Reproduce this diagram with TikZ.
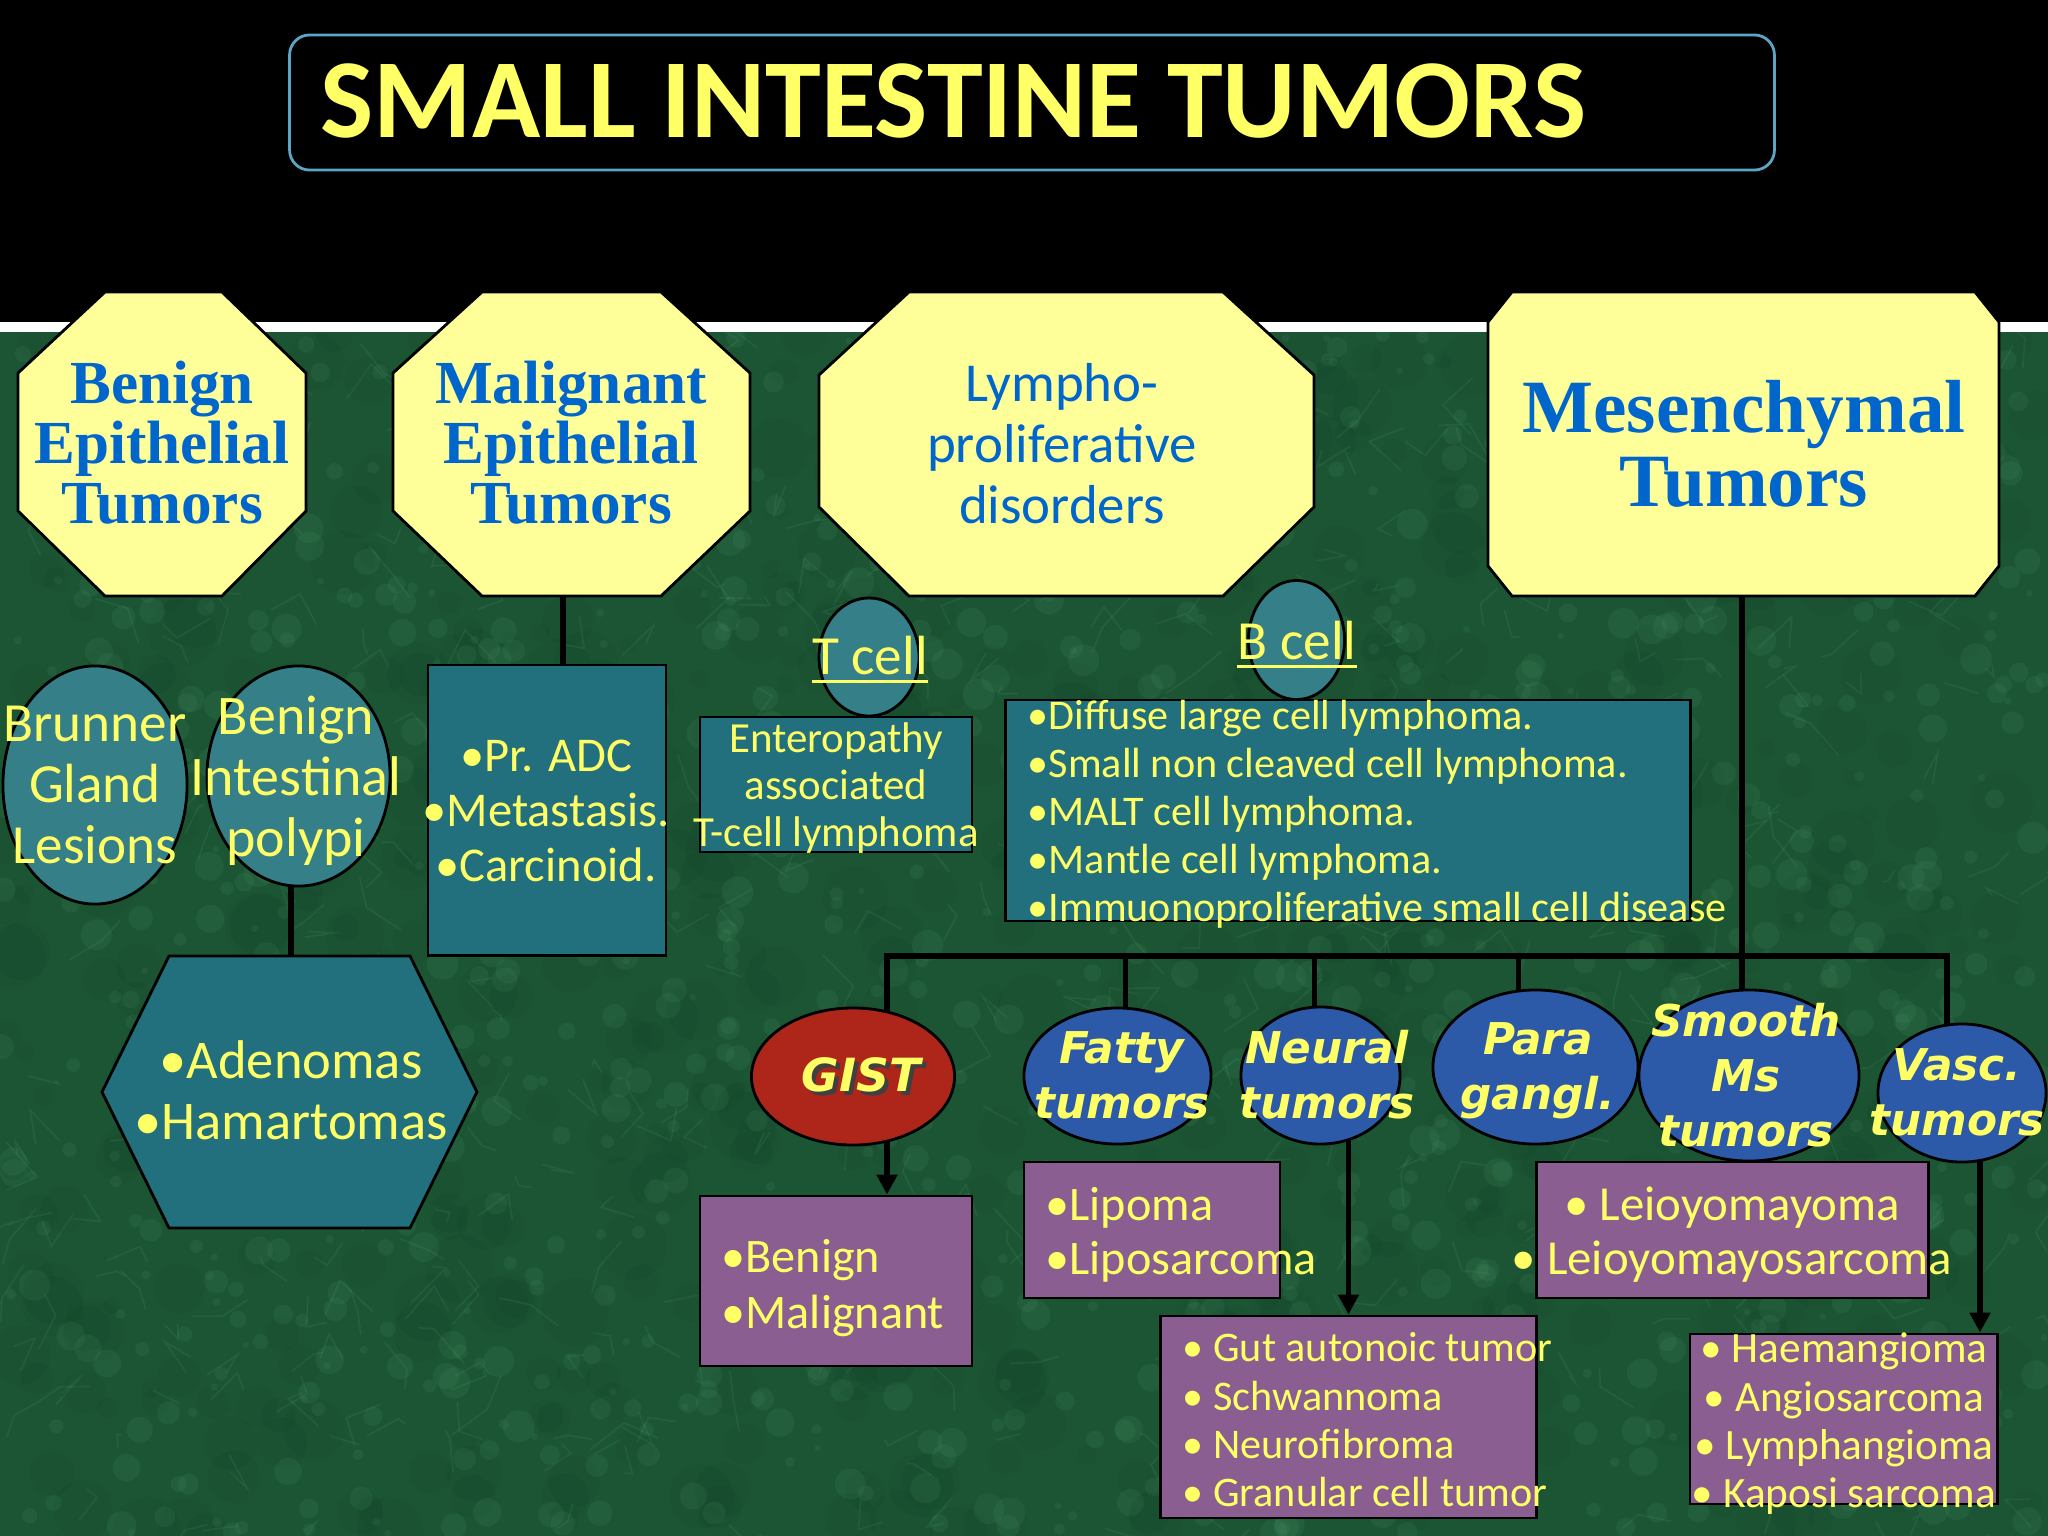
\documentclass[tikz,border=0pt]{standalone}
\usepackage{fontspec}
\setmainfont{Carlito}
\newfontfamily\serifbold{Liberation Serif}
\newfontfamily\dejav{DejaVu Sans}
\usetikzlibrary{shapes.geometric,calc,arrows.meta}
\pgfdeclarelayer{bgl}
\pgfdeclarelayer{connl}
\pgfsetlayers{bgl,connl,main}
\definecolor{octyellow}{HTML}{FFFF99}
\definecolor{bluetxt}{HTML}{0066CC}
\definecolor{ytext}{HTML}{FFFF66}
\definecolor{tealfill}{HTML}{357F88}
\definecolor{tealbox}{HTML}{22707D}
\definecolor{bluefill}{HTML}{2C5AA8}
\definecolor{redfill}{HTML}{AE2619}
\definecolor{purpfill}{HTML}{8A5E90}
\definecolor{bggreen}{HTML}{1C5534}
\definecolor{veincol}{HTML}{5FAE7E}
\definecolor{darkblot}{HTML}{0F3D22}
\definecolor{titleline}{HTML}{5DA5C5}
\newcommand\myfs[2]{\fontsize{#1}{#2}\selectfont}
\begin{document}
\begin{tikzpicture}[x=0.01cm,y=-0.01cm,
  conn/.style={draw=black,line width=1.6pt},
  arr/.style={conn,-{Triangle[length=0.2cm,width=0.2cm]}},
  shp/.style={draw=black,line width=0.8pt,inner sep=0pt},
  tealell/.style={shp,ellipse,fill=tealfill},
  tealrect/.style={shp,rectangle,fill=tealbox},
  purprect/.style={shp,rectangle,fill=purpfill},
  blueell/.style={shp,ellipse,fill=bluefill},
  octfill/.style={draw=black,line width=0.8pt,fill=octyellow},
  txt/.style={inner sep=0pt,text=ytext},
  octtxt/.style={inner sep=0pt,text=bluetxt,align=center},
  elltxt/.style={inner sep=0pt,text=ytext,align=center,font=\dejav\bfseries\itshape\myfs{12.45}{15.6}},
  vein/.style={draw=veincol,line width=0.45pt,opacity=0.13}]
\useasboundingbox (0,0) rectangle (2048,1536);
% ---------- background ----------
\begin{pgfonlayer}{bgl}
\fill[black] (0,0) rectangle (2048,322);
\fill[white] (0,322) rectangle (2048,332);
\fill[bggreen] (0,332) rectangle (2048,1536);
\begin{scope}
\clip (0,332) rectangle (2048,1536);
\pgfmathsetseed{23}
\foreach \k in {1,...,700}{
  \pgfmathsetmacro\xa{rnd*2048}
  \pgfmathsetmacro\ya{332+rnd*1204}
  \pgfmathsetmacro\ra{8+rnd*26}
  \fill[darkblot,opacity=0.10] (\xa,\ya) circle[radius=\ra*0.01cm];
}
\foreach \k in {1,...,1100}{
  \pgfmathsetmacro\xa{rnd*2048}
  \pgfmathsetmacro\ya{332+rnd*1204}
  \pgfmathsetmacro\ra{3+rnd*13}
  \fill[veincol,opacity=0.10] (\xa,\ya) circle[radius=\ra*0.01cm];
}
\foreach \k in {1,...,500}{
  \pgfmathsetmacro\xa{rnd*2048}
  \pgfmathsetmacro\ya{332+rnd*1204}
  \pgfmathsetmacro\xb{\xa+(rnd-0.5)*70}
  \pgfmathsetmacro\yb{\ya+(rnd-0.5)*70}
  \pgfmathsetmacro\xc{\xb+(rnd-0.5)*70}
  \pgfmathsetmacro\yc{\yb+(rnd-0.5)*70}
  \draw[vein] (\xa,\ya) -- (\xb,\yb) -- (\xc,\yc);
}
\end{scope}
\end{pgfonlayer}
% ---------- title ----------
\node[draw=titleline,line width=0.8pt,rounded corners=0.2cm,minimum width=14.84cm,minimum height=1.35cm,inner sep=0pt] (tbox) at (1032,102.5) {};
\node[inner sep=0pt,anchor=base west,text=ytext,font=\bfseries\myfs{32}{32}] (title) at (320,137) {SMALL INTESTINE TUMORS};
% ---------- top octagons ----------
\draw[octfill] (105,292) -- (222,292) -- (306,373) -- (306,511) -- (222,596) -- (105,596) -- (18,511) -- (18,373) -- cycle;
\node[octtxt,font=\serifbold\bfseries\myfs{17.4}{17.1}] (beno) at (162,443) {Benign\\Epithelial\\Tumors};
\draw[octfill] (482,292) -- (661,292) -- (750,373) -- (750,511) -- (661,596) -- (482,596) -- (393,511) -- (393,373) -- cycle;
\node[octtxt,font=\serifbold\bfseries\myfs{17.4}{17.1}] (malo) at (571,443) {Malignant\\Epithelial\\Tumors};
\draw[octfill] (909,292) -- (1223,292) -- (1314,375) -- (1314,507) -- (1223,596) -- (909,596) -- (819,507) -- (819,375) -- cycle;
\node[octtxt,font=\myfs{15.6}{17.35}] (lymo) at (1062,444) {Lympho-\\proliferative\\disorders};
\draw[octfill] (1512,292) -- (1975,292) -- (1999,322) -- (1999,566) -- (1975,596) -- (1512,596) -- (1488,566) -- (1488,322) -- cycle;
\node[octtxt,font=\serifbold\bfseries\myfs{21.4}{21.05}] (meso) at (1744,444) {Mesenchymal\\Tumors};
% ---------- left branch ----------
\node[tealell,minimum width=1.84cm,minimum height=2.38cm] (brun) at (95,785) {};
\node[txt,align=center,font=\myfs{15.7}{17.35}] (brunt) at (95,785) {Brunner\\Gland\\Lesions};
\node[tealell,minimum width=1.83cm,minimum height=2.20cm] (polyp) at (298.5,776) {};
\node[txt,align=center,font=\myfs{15.9}{17.35}] (polypt) at (296,781) {Benign\\Intestinal\\polypi};
\draw[draw=black,line width=0.8pt,fill=tealbox] (169,956) -- (410,956) -- (477,1092) -- (410,1228) -- (169,1228) -- (102,1092) -- cycle;
\node[txt,align=center,font=\myfs{15.5}{17.35}] (hext) at (291,1090) {\textbullet Adenomas\\\textbullet Hamartomas};
\node[tealrect,minimum width=2.38cm,minimum height=2.90cm] (malbox) at (547,810) {};
\node[txt,align=center,font=\myfs{13.8}{15.6}] (malt) at (546,811) {\textbullet Pr. ADC\\\textbullet Metastasis.\\\textbullet Carcinoid.};
% ---------- lymphoproliferative ----------
\node[tealell,minimum width=1.00cm,minimum height=1.18cm] (tcell) at (869,657) {};
\node[tealell,minimum width=0.96cm,minimum height=1.19cm] (bcell) at (1296.5,640) {};
\node[tealrect,minimum width=2.72cm,minimum height=1.35cm] (entbox) at (836,784.5) {};
\node[txt,align=center,font=\myfs{12.2}{13.4}] (entt) at (836,788) {Enteropathy\\associated\\T-cell lymphoma};
\node[tealrect,minimum width=6.84cm,minimum height=2.21cm] (bbox) at (1348,810.5) {};
\node[txt,align=left,anchor=west,font=\myfs{12}{13.65}] (bt) at (1027,814) {\textbullet Diffuse large cell lymphoma.\\\textbullet Small non cleaved cell lymphoma.\\\textbullet MALT cell lymphoma.\\\textbullet Mantle cell lymphoma.\\\textbullet Immuonoproliferative small cell disease};
\node[txt,anchor=base,font=\myfs{15.7}{15.7}] (tcellt) at (870,674) {T cell};
\draw[ytext,line width=0.9pt] ([yshift=-2.2pt]tcellt.base west) -- ([yshift=-2.2pt]tcellt.base east);
\node[txt,anchor=base,font=\myfs{15.7}{15.7}] (bcellt) at (1297,659) {B cell};
\draw[ytext,line width=0.9pt] ([yshift=-2.2pt]bcellt.base west) -- ([yshift=-2.2pt]bcellt.base east);
% ---------- mesenchymal ellipses ----------
\node[shp,ellipse,fill=redfill,minimum width=2.03cm,minimum height=1.37cm] (gist) at (853,1076.5) {};
\node[blueell,minimum width=1.87cm,minimum height=1.36cm] (fatty) at (1117.5,1076) {};
\node[blueell,minimum width=1.59cm,minimum height=1.37cm] (neural) at (1320.5,1075.5) {};
\node[blueell,minimum width=2.05cm,minimum height=1.54cm] (para) at (1535.5,1067) {};
\node[blueell,minimum width=2.20cm,minimum height=1.71cm] (smooth) at (1749,1075.5) {};
\node[blueell,minimum width=1.68cm,minimum height=1.38cm] (vasc) at (1962,1093) {};
\node[inner sep=0pt,anchor=base,text=black!75,font=\dejav\bfseries\itshape\myfs{13}{13}] (gistsh) at (865,1095) {GIST};
\node[inner sep=0pt,anchor=base,text=ytext,font=\dejav\bfseries\itshape\myfs{13}{13}] (gistt) at (861,1091) {GIST};
\node[elltxt] (fattyt) at (1122,1075) {Fatty\\tumors};
\node[elltxt] (neuralt) at (1327,1075) {Neural\\tumors};
\node[elltxt] (parat) at (1538,1071) {Para\\gangl.};
\node[elltxt] (smootht) at (1746,1075) {Smooth\\Ms\\tumors};
\node[elltxt] (vasct) at (1957,1092) {Vasc.\\tumors};
% ---------- purple boxes ----------
\node[purprect,minimum width=2.72cm,minimum height=1.70cm] (gbox) at (836,1281) {};
\node[txt,align=left,anchor=west,font=\myfs{13.7}{15.9}] (gboxt) at (721,1288) {\textbullet Benign\\\textbullet Malignant};
\node[purprect,minimum width=2.56cm,minimum height=1.36cm] (lbox) at (1152,1230) {};
\node[txt,align=left,anchor=west,font=\myfs{13.7}{15.4}] (lboxt) at (1045,1235) {\textbullet Lipoma\\\textbullet Liposarcoma};
\node[purprect,minimum width=3.75cm,minimum height=2.02cm] (nbox) at (1348.5,1417) {};
\node[txt,align=left,anchor=west,font=\myfs{12}{13.75}] (nboxt) at (1182,1420) {\textbullet{} Gut autonoic tumor\\\textbullet{} Schwannoma\\\textbullet{} Neurofibroma\\\textbullet{} Granular cell tumor};
\node[purprect,minimum width=3.91cm,minimum height=1.36cm] (sbox) at (1732.5,1230) {};
\node[txt,align=center,font=\myfs{13.9}{15.4}] (sboxt) at (1732,1235) {\textbullet{} Leioyomayoma\\\textbullet{} Leioyomayosarcoma};
\node[purprect,minimum width=3.07cm,minimum height=1.70cm] (vbox) at (1843.5,1419) {};
\node[txt,align=center,font=\myfs{12.3}{13.75}] (vboxt) at (1844,1424) {\textbullet{} Haemangioma\\\textbullet{} Angiosarcoma\\\textbullet{} Lymphangioma\\\textbullet{} Kaposi sarcoma};
% ---------- connectors ----------
\begin{pgfonlayer}{connl}
\coordinate (malc) at ($(malo)+(-8,0)$);
\draw[conn] (malc) -- (malc |- malbox.center);
\draw[conn] (hext |- polyp.center) -- (hext.center);
\coordinate (mesc) at ($(meso)+(-2,0)$);
\coordinate (bar) at ($(mesc)+(0,512)$);
\draw[conn] (mesc) -- (mesc |- smooth.center);
\coordinate (gd) at ($(gist.center)+(34,0)$);
\coordinate (fd) at ($(fatty.center)+(8,0)$);
\coordinate (nd) at ($(neural.center)+(-6,0)$);
\coordinate (pd) at ($(para.center)+(-17,0)$);
\coordinate (vd) at ($(vasc.center)+(-15,0)$);
\draw[conn] (gd |- gist.center) -- (gd |- bar) -- (vd |- bar) -- (vd |- vasc.center);
\draw[conn] (fd |- bar) -- (fd);
\draw[conn] (nd |- bar) -- (nd);
\draw[conn] (pd |- bar) -- (pd);
\draw[arr] (gd) -- (gd |- gbox.north);
\coordinate (na) at ($(neural.center)+(28,0)$);
\draw[arr] (na) -- (na |- nbox.north);
\coordinate (va) at ($(vasc.center)+(18,0)$);
\draw[arr] (va) -- (va |- vbox.north);
\end{pgfonlayer}
\end{tikzpicture}
\end{document}
